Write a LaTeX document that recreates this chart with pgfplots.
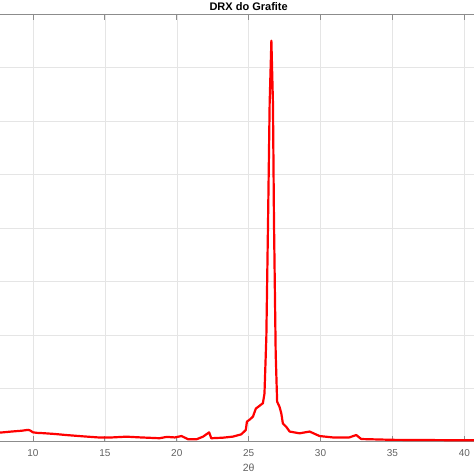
\documentclass[border=0pt]{standalone}
\usepackage{fontspec}
\setmainfont{Liberation Sans}
\usepackage{pgfplots}
\pgfplotsset{compat=1.18}

\definecolor{axgray}{gray}{0.55}
\definecolor{lblgray}{gray}{0.38}
\definecolor{gridgray}{gray}{0.9}

\begin{document}
\begin{tikzpicture}
\begin{axis}[
  x=14.38pt, y=0.05346pt,
  scale only axis,
  xmin=5, xmax=45, ymin=0, ymax=8000,
  xtick={10,15,...,40},
  ytick={0,1000,...,8000},
  yticklabels={},
  grid=major,
  major grid style={draw=gridgray, line width=0.5pt},
  axis line style={draw=axgray, line width=0.8pt},
  tick style={draw=axgray, line width=0.8pt},
  tick align=inside,
  major tick length=6pt,
  /pgf/number format/assume math mode=true,
  xticklabel style={font=\fontsize{10}{12}\selectfont, text=lblgray, anchor=base, inner sep=0pt, yshift=-14.6pt},
  every axis title/.style={},
  title={\textbf{DRX do Grafite}},
  title style={font=\fontsize{11}{13}\selectfont, anchor=base, at={(0.5,1)}, inner sep=0pt, yshift=3pt},
  xlabel={2θ},
  xlabel style={font=\fontsize{10.5}{12}\selectfont, text=lblgray, anchor=base, at={(0.5,0)}, inner sep=0pt, yshift=-29.5pt},
]
\addplot[color=red, line width=2.2pt, line join=round] coordinates {
  (7.0,150) (7.71,170) (8.5,190) (9.2,205) (9.67,222) (9.8,210)
  (10.0,175) (10.3,165) (10.7,160) (11.5,145) (12.3,125) (13.5,100)
  (14.65,78) (15.5,80) (16.5,94) (17.5,80) (18.8,65) (19.3,90)
  (19.86,80) (20.33,106) (20.8,45) (21.37,45) (21.83,95) (22.25,175)
  (22.4,65) (23.2,75) (23.9,95) (24.49,138) (24.8,220) (24.88,375)
  (25.1,420) (25.3,470) (25.5,620) (25.7,660) (25.99,720) (26.1,900)
  (26.23,1960) (26.35,4150) (26.46,6330) (26.58,7500) (26.69,6330)
  (26.76,4150) (26.88,1650) (26.98,750) (27.15,650) (27.27,530)
  (27.38,340) (27.61,280) (27.85,190) (28.54,157) (29.24,190)
  (29.93,106) (30.85,80) (32.0,80) (32.48,125) (32.83,50) (35.0,35)
  (38.0,30) (41.5,25)
};
\coordinate (bl) at (axis cs:7.706,-604);
\coordinate (tr) at (axis cs:40.667,8262);
\end{axis}
\pgfresetboundingbox
\useasboundingbox (bl) rectangle (tr);
\end{tikzpicture}
\end{document}
